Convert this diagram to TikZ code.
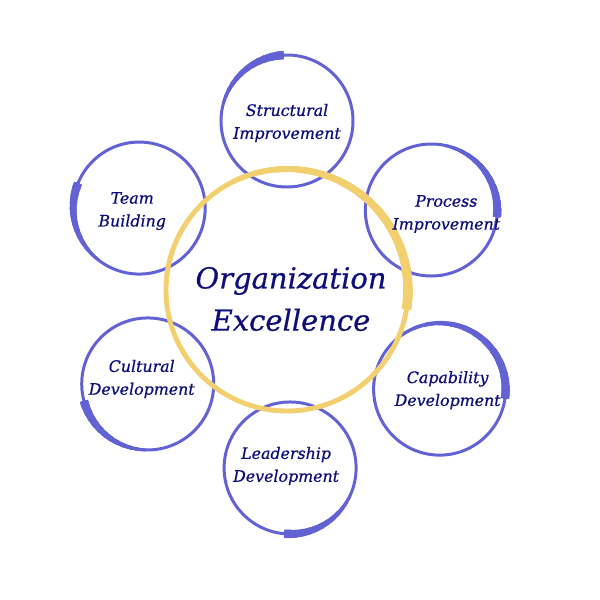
\documentclass[tikz,border=0pt]{standalone}
\usepackage{fontspec}
\setmainfont{DejaVu Serif}[ItalicFeatures={FakeBold=0.6}]
\definecolor{ringblue}{RGB}{98,98,212}
\definecolor{ringgold}{RGB}{242,208,112}
\definecolor{inkblue}{RGB}{14,14,122}
\tikzset{
  bub/.style={circle, draw=ringblue, line width=1.7pt, minimum size=2.64cm,
    inner sep=0pt, outer sep=0pt},
  hub/.style={circle, draw=ringgold, line width=2.8pt, minimum size=4.84cm,
    inner sep=0pt, outer sep=0pt},
  brush/.style={draw=ringblue},
  lbl/.style={text=inkblue, align=center,
    font=\fontsize{9}{13}\selectfont\itshape},
  biglbl/.style={text=inkblue, align=center,
    font=\fontsize{16.5}{24}\selectfont\itshape}
}
\begin{document}
\begin{tikzpicture}
  \fill[white] (-5.74,-6.2) rectangle (6.26,5.8);
  \useasboundingbox (-5.74,-6.2) rectangle (6.26,5.8);
  % outer bubbles
  \draw
    (90:3.38) node[bub] (struct){}
    (29:3.30) node[bub] (proc){}
    (-33:3.64) node[bub] (capa){}
    (-89:3.56) node[bub] (lead){}
    (214:3.36) node[bub] (cult){}
    (151:3.38) node[bub] (team){};
  % brush strokes, thick end first
  \foreach \n/\a/\b in {struct/93/165, team/158/232, proc/-6/78,
                        capa/-8/125, lead/-95/-25, cult/195/268}
    \foreach \k in {0,...,11}
      \draw[brush, line width=4.8pt-0.28pt*\k]
        (\n.\a) arc ({\a}:{\a+(\b-\a)*(\k+1)/12}:1.32);
  % centre ring
  \node[hub] (org) at (0,0) {};
  \foreach \k in {0,...,11}
    \draw[ringgold, line width=5.4pt-0.22pt*\k]
      (org.-9) arc (-9:{-9+125*(\k+1)/12}:2.42);
  % labels
  \node[biglbl] (orgtxt) at ([xshift=0.08cm,yshift=-0.18cm]org) {Organization\\Excellence};
  \node[lbl] (structtxt) at ([yshift=-0.04cm]struct) {Structural\\Improvement};
  \node[lbl] (proctxt) at ([xshift=0.30cm,yshift=-0.08cm]proc) {Process\\Improvement};
  \node[lbl] (capatxt) at ([xshift=0.16cm,yshift=-0.02cm]capa) {Capability\\Development};
  \node[lbl] (leadtxt) at ([xshift=-0.08cm,yshift=0.04cm]lead) {Leadership\\Development};
  \node[lbl] (culttxt) at ([xshift=-0.12cm,yshift=0.1cm]cult) {Cultural\\Development};
  \node[lbl] (teamtxt) at ([xshift=-0.14cm,yshift=-0.06cm]team) {Team\\Building};
\end{tikzpicture}
\end{document}
